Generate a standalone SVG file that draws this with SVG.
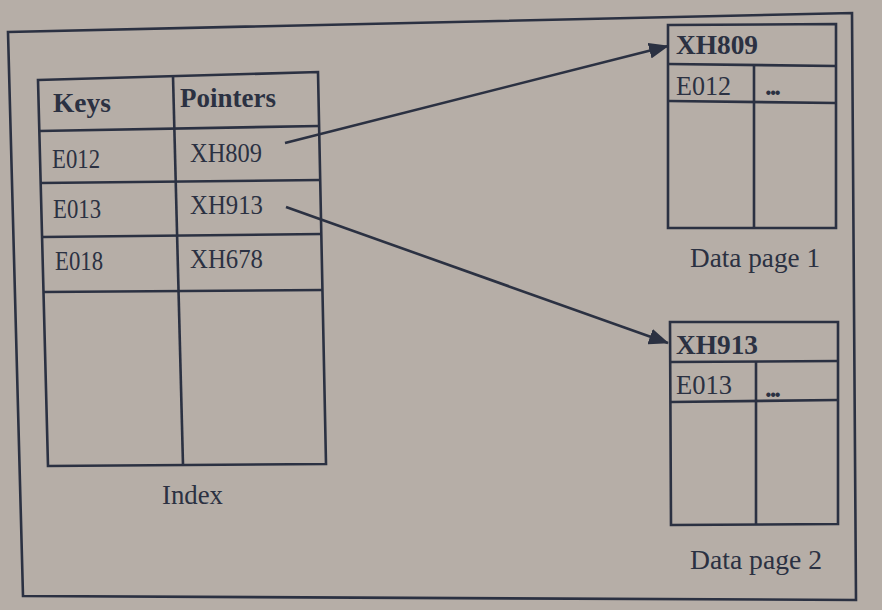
<svg xmlns="http://www.w3.org/2000/svg" width="882" height="610" viewBox="0 0 882 610">
<defs>
<style>
.ln{fill:none;stroke:#2b3142;stroke-width:2.6;stroke-linejoin:miter}
.t{font-family:"Liberation Serif","Times New Roman",serif;font-size:27px;fill:#2b3142}
.b{font-weight:bold}
.c{stroke:#2b3142;stroke-width:2.6;fill:none}
</style>
<marker id="ah2" viewBox="0 0 20 16" refX="19" refY="8" markerWidth="20" markerHeight="16" orient="auto" markerUnits="userSpaceOnUse">
<path d="M0,0 L20,8 L0,16 z" fill="#2b3142"/>
</marker>
</defs>
<rect x="0" y="0" width="882" height="610" fill="#b6aea7"/>
<g id="frame">
<path class="ln" d="M8,32 L852,13 L856,600 L23,596 Z" fill="#b3aba4"/>
</g>
<g id="index">
<path class="ln" d="M38,80 L318,72 L326,464 L48,466 Z"/>
<path class="ln" d="M173,76 L183,465"/>
<path class="ln" d="M39,131 L319,126"/>
<path class="ln" d="M40,183 L320,180"/>
<path class="ln" d="M42,237 L322,234"/>
<path class="ln" d="M43,292 L323,290"/>
<text class="t b" x="53" y="112" textLength="58" lengthAdjust="spacingAndGlyphs">Keys</text>
<text class="t b" x="180" y="107" textLength="96" lengthAdjust="spacingAndGlyphs">Pointers</text>
<text class="t" x="52" y="168" textLength="48" lengthAdjust="spacingAndGlyphs">E012</text>
<text class="t" x="190" y="162" textLength="72" lengthAdjust="spacingAndGlyphs">XH809</text>
<text class="t" x="53" y="218" textLength="48" lengthAdjust="spacingAndGlyphs">E013</text>
<text class="t" x="190" y="214" textLength="73" lengthAdjust="spacingAndGlyphs">XH913</text>
<text class="t" x="55" y="270" textLength="48" lengthAdjust="spacingAndGlyphs">E018</text>
<text class="t" x="190" y="268" textLength="73" lengthAdjust="spacingAndGlyphs">XH678</text>
<text class="t" x="162" y="504" textLength="61" lengthAdjust="spacingAndGlyphs">Index</text>
</g>
<g id="page1">
<path class="ln" d="M668,25 L836,24 L836,228 L668,228 Z"/>
<path class="ln" d="M668,64 L836,66"/>
<path class="ln" d="M669,101 L836,103"/>
<path class="ln" d="M754,65 L754,228"/>
<text class="t b" x="676" y="54" textLength="82" lengthAdjust="spacingAndGlyphs">XH809</text>
<text class="t" x="676" y="95" textLength="55" lengthAdjust="spacingAndGlyphs">E012</text>
<text class="t b" x="765" y="95" font-size="14" textLength="16">...</text>
<text class="t" x="690" y="267" textLength="130" lengthAdjust="spacingAndGlyphs">Data page 1</text>
</g>
<g id="page2">
<path class="ln" d="M670,322 L838,322 L838,524 L671,525 Z"/>
<path class="ln" d="M671,362 L838,361"/>
<path class="ln" d="M671,402 L838,400"/>
<path class="ln" d="M756,362 L756,524"/>
<text class="t b" x="676" y="354" textLength="82" lengthAdjust="spacingAndGlyphs">XH913</text>
<text class="t" x="676" y="394" textLength="56" lengthAdjust="spacingAndGlyphs">E013</text>
<text class="t b" x="765" y="397" font-size="14" textLength="16">...</text>
<text class="t" x="690" y="569" textLength="132" lengthAdjust="spacingAndGlyphs">Data page 2</text>
</g>
<g id="connectors">
<path class="c" d="M285,143 L668,46" marker-end="url(#ah2)"/>
<path class="c" d="M286,207 L668,343" marker-end="url(#ah2)"/>
</g>
</svg>
